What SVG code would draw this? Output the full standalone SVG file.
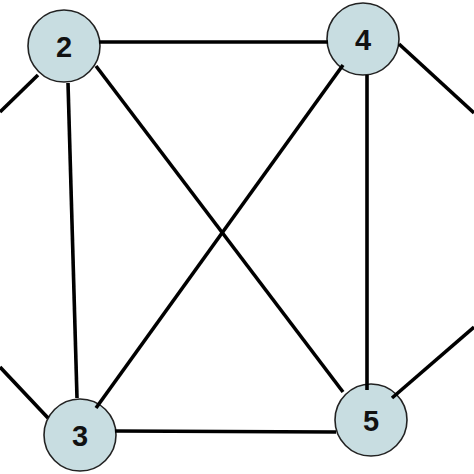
<svg xmlns="http://www.w3.org/2000/svg" width="474" height="474" viewBox="0 0 474 474">
<style>
.node circle{fill:#c8dde1;stroke:#222;stroke-width:1.6}
.node text{font-family:"Liberation Sans",Arial,sans-serif;font-weight:bold;font-size:29px;fill:#111;text-anchor:middle;dominant-baseline:central}
.edges line{stroke:#000;stroke-width:3.6;stroke-linecap:butt}
</style>
<rect width="474" height="474" fill="#fff"/>
<g id="node2" class="node"><circle cx="64" cy="46" r="36"/><text x="64" y="47">2</text></g>
<g id="node4" class="node"><circle cx="363" cy="39" r="36"/><text x="363" y="40">4</text></g>
<g id="node3" class="node"><circle cx="80" cy="435" r="36"/><text x="80" y="436">3</text></g>
<g id="node5" class="node"><circle cx="371" cy="420" r="36"/><text x="371" y="421">5</text></g>
<g id="edges" class="edges">
<line x1="99" y1="42" x2="328" y2="42"/>
<line x1="68" y1="83" x2="77" y2="398"/>
<line x1="96" y1="66" x2="343" y2="392"/>
<line x1="343" y1="65" x2="96" y2="408"/>
<line x1="367" y1="75" x2="367" y2="390"/>
<line x1="115" y1="431" x2="336" y2="432"/>
<line x1="38" y1="75" x2="0" y2="112"/>
<line x1="0" y1="367" x2="48" y2="418"/>
<line x1="399" y1="44" x2="474" y2="113"/>
<line x1="392" y1="398" x2="474" y2="327"/>
</g>
</svg>
